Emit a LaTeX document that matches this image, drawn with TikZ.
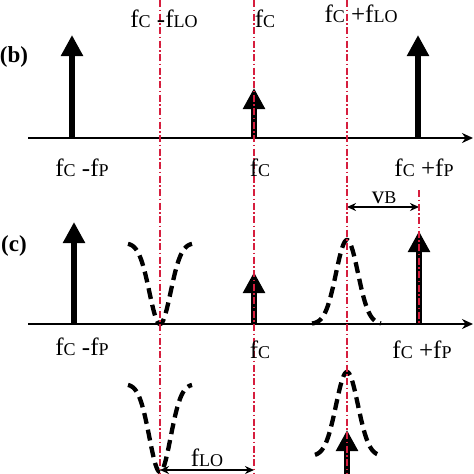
\documentclass[tikz,border=0pt]{standalone}
\usepackage{fontspec}
\setmainfont{Liberation Serif}
\usetikzlibrary{arrows.meta}
\definecolor{redline}{RGB}{214,30,62}
\newcommand\smc[1]{{\fontsize{18}{18}\selectfont #1}}
\tikzset{
  axisline/.style={line width=2pt,-{Stealth[length=11pt,width=10pt]}},
  bigarrow/.style={line width=6.5pt,-{Triangle[length=21pt,width=21pt]}},
  redmark/.style={redline,line width=1.3pt,dash pattern=on 7pt off 2.5pt on 1.5pt off 2.5pt},
  dcurve/.style={line width=4.3pt,dash pattern=on 11pt off 6pt},
  dimarrow/.style={line width=1.8pt,{Stealth[length=9pt,width=8pt]}-{Stealth[length=9pt,width=8pt]}},
  lbl/.style={font=\fontsize{25}{25}\selectfont,inner sep=0pt,anchor=base}
}
\begin{document}
\begin{tikzpicture}[x=1pt,y=-1pt]
\useasboundingbox (0,0) rectangle (474,474);
\clip (0,0) rectangle (474,474);
% coordinates
\coordinate (bL) at (28,138); \coordinate (bR) at (473,138);
\coordinate (cL) at (28,324); \coordinate (cR) at (473,324);
\coordinate (b1base) at (72,138); \coordinate (b1tip) at (72,35);
\coordinate (b2base) at (254,138); \coordinate (b2tip) at (254,88);
\coordinate (b3base) at (418,138); \coordinate (b3tip) at (418,35);
\coordinate (c1base) at (74,324); \coordinate (c1tip) at (74,222);
\coordinate (c2base) at (254,324); \coordinate (c2tip) at (254,272);
\coordinate (c3base) at (419,324); \coordinate (c3tip) at (419,231);
\coordinate (d3base) at (347,490); \coordinate (d3tip) at (347,430);
\coordinate (r1t) at (160,0); \coordinate (r1b) at (160,474);
\coordinate (r2t) at (254,0); \coordinate (r2b) at (254,474);
\coordinate (r3t) at (347,0); \coordinate (r3b) at (347,474);
\coordinate (r4t) at (419,190); \coordinate (r4b) at (419,324);
\coordinate (vbL) at (347,207); \coordinate (vbR) at (419,207);
\coordinate (loL) at (160,470); \coordinate (loR) at (254,470);
% axes
\draw[axisline] (bL) -- (bR);
\draw[axisline] (cL) -- (cR);
% arrows
\draw[bigarrow] (b1base) -- (b1tip);
\draw[bigarrow] (b2base) -- (b2tip);
\draw[bigarrow] (b3base) -- (b3tip);
\draw[bigarrow] (c1base) -- (c1tip);
\draw[bigarrow] (c2base) -- (c2tip);
\draw[bigarrow] (c3base) -- (c3tip);
\draw[bigarrow] (d3base) -- (d3tip);
% dashed curves
\draw[dcurve] plot[domain=128:192,samples=80] (\x,{324-81*(1-exp(-((\x-160)/15)^2))});
\draw[dcurve] plot[domain=312:381,samples=80] (\x,{324-84*exp(-((\x-347)/15.5)^2)});
\draw[dcurve] plot[domain=128:192,samples=80] (\x,{472-88*(1-exp(-((\x-160)/15)^2))});
\draw[dcurve] plot[domain=315:381,samples=80] (\x,{456-84*exp(-((\x-347)/15.5)^2)});
% dimension arrows
\draw[dimarrow] (vbL) -- (vbR);
\draw[dimarrow] (loL) -- (loR);
% red lines
\draw[redmark] (r1t) -- (r1b);
\draw[redmark] (r2t) -- (r2b);
\draw[redmark] (r3t) -- (r3b);
\draw[redmark] (r4t) -- (r4b);
% labels
\node[lbl] (t1) at (164,27) {f\smc{C} -f\smc{LO}};
\node[lbl] (t2) at (265,27) {f\smc{C}};
\node[lbl] (t3) at (361,22) {f\smc{C} +f\smc{LO}};
\node[lbl,font=\fontsize{23}{23}\selectfont\bfseries] (lb) at (14,62) {(b)};
\node[lbl,font=\fontsize{23}{23}\selectfont\bfseries] (lc) at (14,251) {(c)};
\node[lbl] (b1l) at (82,176) {f\smc{C} -f\smc{P}};
\node[lbl] (b2l) at (260,176) {f\smc{C}};
\node[lbl] (b3l) at (424,176) {f\smc{C} +f\smc{P}};
\node[lbl] (c1l) at (82,355) {f\smc{C} -f\smc{P}};
\node[lbl] (c2l) at (260,358) {f\smc{C}};
\node[lbl] (c3l) at (422,358) {f\smc{C} +f\smc{P}};
\node[lbl] (vb) at (384,203) {v\smc{B}};
\node[lbl] (flo) at (207,466) {f\smc{LO}};
\end{tikzpicture}
\end{document}
